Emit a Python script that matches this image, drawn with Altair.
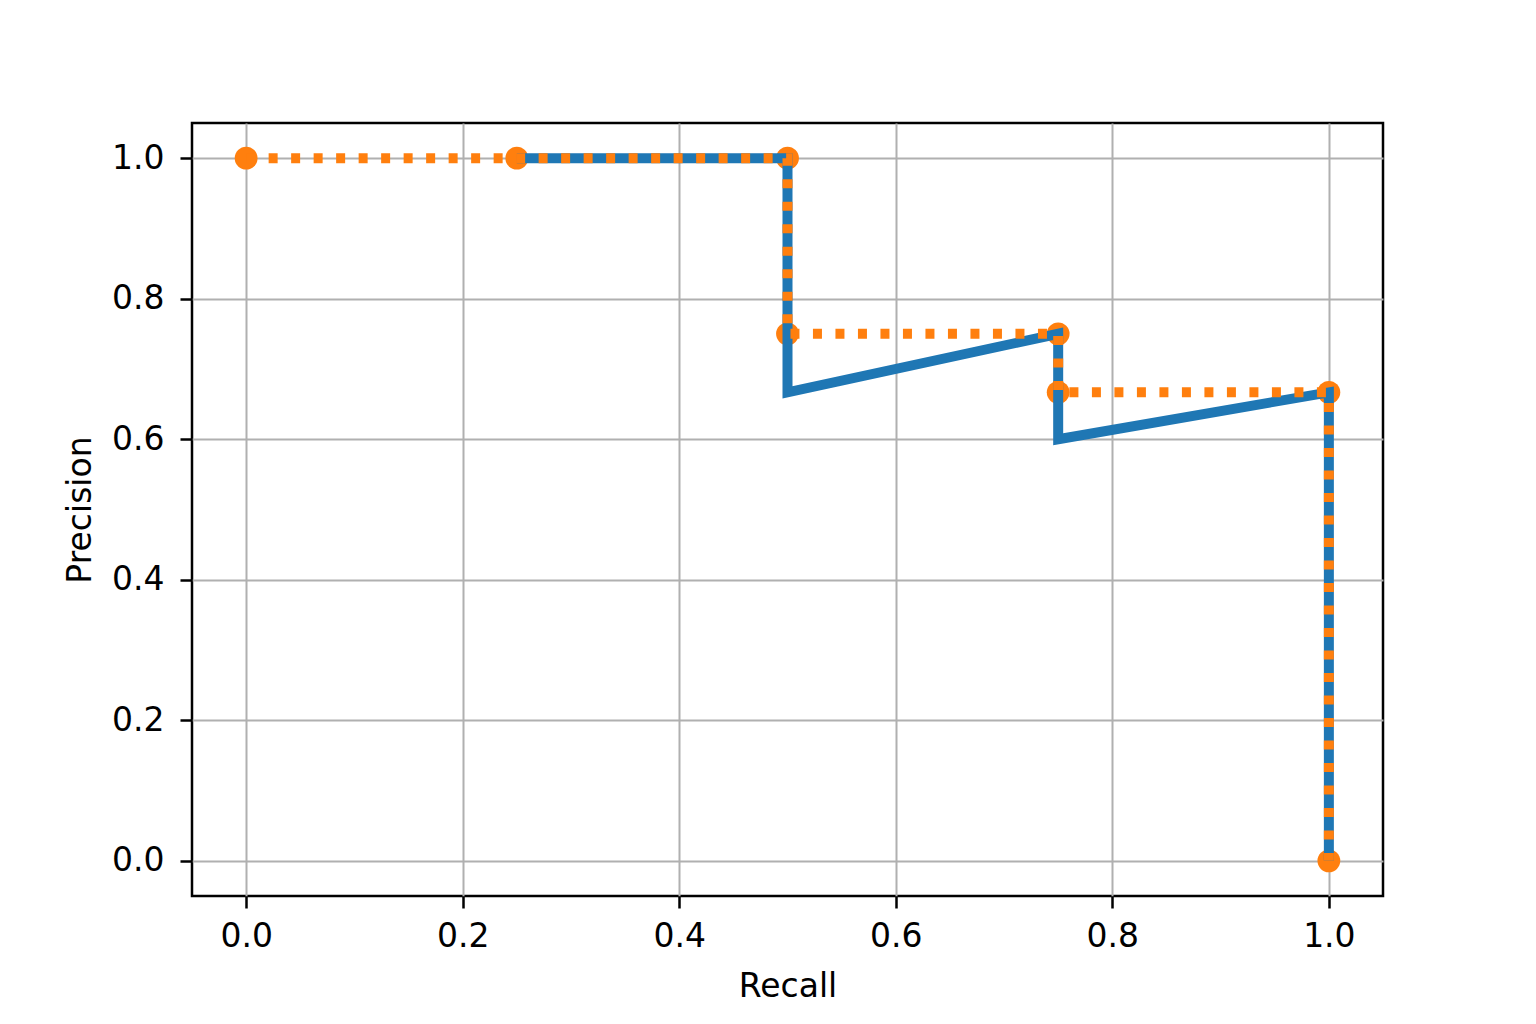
import altair as alt
import pandas as pd

# Blue solid curve (raw precision-recall)
blue_recall = [0.25, 0.5, 0.5, 0.75, 0.75, 1.0, 1.0]
blue_precision = [1.0, 1.0, 0.6667, 0.75, 0.6, 0.6667, 0.0]

# Orange dotted curve (interpolated, with markers)
orange_recall = [0.0, 0.25, 0.5, 0.5, 0.75, 0.75, 1.0, 1.0]
orange_precision = [1.0, 1.0, 1.0, 0.75, 0.75, 0.6667, 0.6667, 0.0]

ticks = [0.0, 0.2, 0.4, 0.6, 0.8, 1.0]

blue_df = pd.DataFrame({"recall": blue_recall, "precision": blue_precision,
                        "order": list(range(len(blue_recall)))})
orange_df = pd.DataFrame({"recall": orange_recall, "precision": orange_precision,
                          "order": list(range(len(orange_recall)))})

FONT = "DejaVu Sans"

x_enc = alt.X("recall:Q", scale=alt.Scale(domain=[-0.05, 1.05], nice=False, zero=False),
              axis=alt.Axis(values=ticks, format=".1f", title="Recall"))
y_enc = alt.Y("precision:Q", scale=alt.Scale(domain=[-0.05, 1.05], nice=False, zero=False),
              axis=alt.Axis(values=ticks, format=".1f", title="Precision"))

points = alt.Chart(orange_df).mark_point(filled=True, shape="circle", size=520,
                                        color="#ff7f0e", opacity=1).encode(
    x=x_enc, y=y_enc)

blue = alt.Chart(blue_df).mark_line(color="#1f77b4", strokeWidth=10,
                                    strokeJoin="miter", strokeCap="butt").encode(
    x=x_enc, y=y_enc, order="order:Q")

orange = alt.Chart(orange_df).mark_line(color="#ff7f0e", strokeWidth=10,
                                        strokeDash=[9, 13.5], strokeCap="butt").encode(
    x=x_enc, y=y_enc, order="order:Q")

chart = alt.layer(points, blue, orange).properties(
    width=1191, height=773,
    autosize=alt.AutoSizeParams(type="none"),
    padding={"left": 184, "top": 115, "right": 145, "bottom": 120},
    background="white",
).configure_view(
    stroke="black", strokeWidth=2.5, fill="white"
).configure_axis(
    grid=True, gridColor="#b0b0b0", gridWidth=2, gridOpacity=1,
    domain=False, ticks=True, tickColor="black", tickWidth=2.5, tickSize=12,
    labelFont=FONT, labelFontSize=33, labelColor="black",
    titleFont=FONT, titleFontSize=33, titleFontWeight="normal", titleColor="black",
).configure_axisX(
    labelPadding=12, titlePadding=17, labelFlush=False
).configure_axisY(
    labelPadding=16, titlePadding=14, labelFlush=False
)

chart.save("out.html", embed_options={"renderer": "svg", "actions": False})
